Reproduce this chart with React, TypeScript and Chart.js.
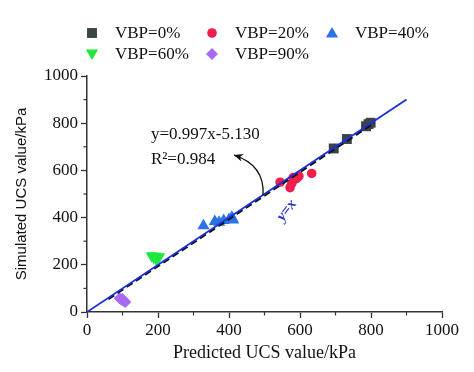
import React, { useEffect, useRef } from "react";
import { Chart, registerables } from "chart.js";
import { drawPoint } from "chart.js/helpers";

Chart.register(...registerables);

// ---- data ----
const seriesLabels = ["VBP=0%", "VBP=20%", "VBP=40%", "VBP=60%", "VBP=90%"];
const seriesColors = ["#3b4346", "#f01e4c", "#2a72e6", "#1ee83c", "#a86af0"];
const seriesStyles = ["rect", "circle", "triangle", "triangle", "rectRot"];
const seriesRotation = [0, 0, 0, 180, 0];
const seriesRadius = [7, 4.8, 7, 7, 6];

const vbp0 = [[695, 693], [732, 733], [786, 787], [793, 796], [799, 802]];
const vbp20 = [[544, 550], [572, 527], [577, 545], [581, 570], [590, 565], [597, 576], [633, 587]];
const vbp40 = [[328, 365], [360, 383], [372, 380], [385, 388], [400, 392], [408, 402], [412, 390]];
const vbp60 = [[182, 238], [188, 232], [193, 236], [198, 230], [203, 234], [195, 225]];
const vbp90 = [[92, 58], [97, 52], [103, 48], [108, 42], [100, 55]];
const seriesData = [vbp0, vbp20, vbp40, vbp60, vbp90];

const fitSlope = 0.997;
const fitIntercept = -5.13;
const fitRange = [60, 810];
const identityRange = [0, 900];

const majorTicks = [0, 200, 400, 600, 800, 1000];
const axisMin = 0;
const axisMax = 1000;

const fitText = "y=0.997x-5.130";
const r2Text = "R²=0.984";
const identityText = "y=x";

// annotation anchors (data coordinates)
const fitTextPos = [180, 733];
const r2TextPos = [180, 627];
const arrowTail = [496, 495];
const arrowCtrl = [501, 623];
const arrowTip = [414, 665];
const identityTextPos = [563, 430];

const FONT = "Liberation Serif";
const SANS = "Liberation Sans";

Chart.defaults.font.family = FONT;

const legendPlugin = {
  id: "customLegend",
  afterDraw(chart: any) {
    const ctx = chart.ctx;
    ctx.save();
    const colMarkerX = [92, 212, 332];
    const colTextX = [115, 235, 355];
    const rowY = [33, 54];
    seriesLabels.forEach((lab, i) => {
      const col = i % 3;
      const row = Math.floor(i / 3);
      ctx.fillStyle = seriesColors[i];
      ctx.strokeStyle = seriesColors[i];
      drawPoint(
        ctx,
        {
          pointStyle: seriesStyles[i],
          radius: seriesRadius[i],
          rotation: seriesRotation[i],
          borderWidth: 0,
        } as any,
        colMarkerX[col],
        rowY[row] + (seriesStyles[i] === "triangle" ? (seriesRotation[i] === 180 ? -1 : 1) : 0)
      );
      ctx.fillStyle = "#111";
      ctx.font = `17px "${FONT}"`;
      ctx.textBaseline = "middle";
      ctx.textAlign = "left";
      ctx.fillText(lab, colTextX[col], rowY[row] + 1);
    });
    ctx.restore();
  },
};

const annotationPlugin = {
  id: "annotations",
  afterDatasetsDraw(chart: any) {
    const ctx = chart.ctx;
    const xs = chart.scales.x;
    const ys = chart.scales.y;
    const px = (v: number) => xs.getPixelForValue(v);
    const py = (v: number) => ys.getPixelForValue(v);
    ctx.save();
    // minor ticks
    ctx.strokeStyle = "#333";
    ctx.lineWidth = 1.2;
    for (let v = 100; v < 1000; v += 200) {
      ctx.beginPath();
      ctx.moveTo(px(v), ys.bottom);
      ctx.lineTo(px(v), ys.bottom + 3.5);
      ctx.stroke();
      ctx.beginPath();
      ctx.moveTo(xs.left, py(v));
      ctx.lineTo(xs.left - 3.5, py(v));
      ctx.stroke();
    }
    // texts
    ctx.fillStyle = "#111";
    ctx.font = `17px "${FONT}"`;
    ctx.textAlign = "left";
    ctx.textBaseline = "alphabetic";
    ctx.fillText(fitText, px(fitTextPos[0]), py(fitTextPos[1]));
    ctx.fillText(r2Text, px(r2TextPos[0]), py(r2TextPos[1]));
    // arrow
    const tx = px(arrowTail[0]), ty = py(arrowTail[1]);
    const cx = px(arrowCtrl[0]), cy = py(arrowCtrl[1]);
    const hx = px(arrowTip[0]), hy = py(arrowTip[1]);
    ctx.strokeStyle = "#111";
    ctx.lineWidth = 1.3;
    ctx.beginPath();
    ctx.moveTo(tx, ty);
    ctx.quadraticCurveTo(cx, cy, hx, hy);
    ctx.stroke();
    const ang = Math.atan2(hy - cy, hx - cx);
    const L = 9, W = 4;
    ctx.fillStyle = "#111";
    ctx.beginPath();
    ctx.moveTo(hx, hy);
    ctx.lineTo(hx - L * Math.cos(ang) + W * Math.sin(ang), hy - L * Math.sin(ang) - W * Math.cos(ang));
    ctx.lineTo(hx - L * 0.7 * Math.cos(ang), hy - L * 0.7 * Math.sin(ang));
    ctx.lineTo(hx - L * Math.cos(ang) - W * Math.sin(ang), hy - L * Math.sin(ang) + W * Math.cos(ang));
    ctx.closePath();
    ctx.fill();
    // y=x label
    ctx.translate(px(identityTextPos[0]), py(identityTextPos[1]));
    ctx.rotate((-52 * Math.PI) / 180);
    ctx.fillStyle = "#2233cc";
    ctx.font = `italic bold 15px "${FONT}"`;
    ctx.textAlign = "center";
    ctx.textBaseline = "middle";
    ctx.fillText(identityText, 0, 0);
    ctx.restore();
  },
};

export default function App() {
  const ref = useRef<HTMLCanvasElement>(null);
  useEffect(() => {
    document.body.style.margin = "0";
    const scatterSets = seriesData.map((d, i) => ({
      type: "scatter" as const,
      label: seriesLabels[i],
      data: d.map(([x, y]) => ({ x, y })),
      pointStyle: seriesStyles[i],
      pointRotation: seriesRotation[i],
      pointRadius: seriesRadius[i],
      backgroundColor: seriesColors[i],
      borderColor: seriesColors[i],
      borderWidth: 0,
      showLine: false,
      order: 1,
    }));
    const chart = new Chart(ref.current!, {
      type: "scatter",
      data: {
        datasets: [
          ...scatterSets,
          {
            type: "line" as const,
            label: "fit",
            data: fitRange.map((x) => ({ x, y: fitSlope * x + fitIntercept })),
            borderColor: "#111",
            borderWidth: 2.2,
            borderDash: [7, 4],
            pointRadius: 0,
            showLine: true,
            order: 0,
          },
          {
            type: "line" as const,
            label: "y=x",
            data: identityRange.map((x) => ({ x, y: x })),
            borderColor: "#1a2ee0",
            borderWidth: 1.8,
            pointRadius: 0,
            showLine: true,
            order: -1,
          },
        ] as any,
      },
      options: {
        animation: false,
        responsive: false,
        maintainAspectRatio: false,
        font: { family: FONT },
        layout: { padding: { top: 76, right: 32, left: 0, bottom: 0 } },
        plugins: { legend: { display: false }, tooltip: { enabled: false } },
        scales: {
          x: {
            type: "linear",
            min: axisMin,
            max: axisMax,
            afterBuildTicks: (s: any) => {
              s.ticks = majorTicks.map((v) => ({ value: v }));
            },
            afterFit: (s: any) => {
              s.height = 60;
            },
            border: { color: "#333", width: 1.5 },
            grid: { drawOnChartArea: false, drawTicks: true, tickLength: 6, tickColor: "#333", tickWidth: 1.3 },
            ticks: {
              color: "#111",
              font: { family: FONT, size: 17 },
              padding: 2,
              maxRotation: 0,
              callback: (v: any) => String(v),
            },
            title: {
              display: true,
              text: "Predicted UCS value/kPa",
              color: "#111",
              font: { family: FONT, size: 18 },
              padding: { top: 0, bottom: 8 },
            },
          },
          y: {
            type: "linear",
            min: axisMin,
            max: axisMax,
            afterBuildTicks: (s: any) => {
              s.ticks = majorTicks.map((v) => ({ value: v }));
            },
            afterFit: (s: any) => {
              s.width = 87;
            },
            border: { color: "#333", width: 1.5 },
            grid: { drawOnChartArea: false, drawTicks: true, tickLength: 6, tickColor: "#333", tickWidth: 1.3 },
            ticks: {
              color: "#111",
              font: { family: FONT, size: 17 },
              padding: 3,
              callback: (v: any) => String(v),
            },
            title: {
              display: true,
              text: "Simulated UCS value/kPa",
              color: "#111",
              font: { family: SANS, size: 15 },
              padding: { top: 13, bottom: 0 },
            },
          },
        },
      },
      plugins: [legendPlugin, annotationPlugin],
    } as any);
    return () => chart.destroy();
  }, []);
  return (
    <div style={{ width: 474, height: 372, background: "#fff" }}>
      <canvas ref={ref} width={474} height={372} style={{ width: 474, height: 372, display: "block" }} />
    </div>
  );
}
